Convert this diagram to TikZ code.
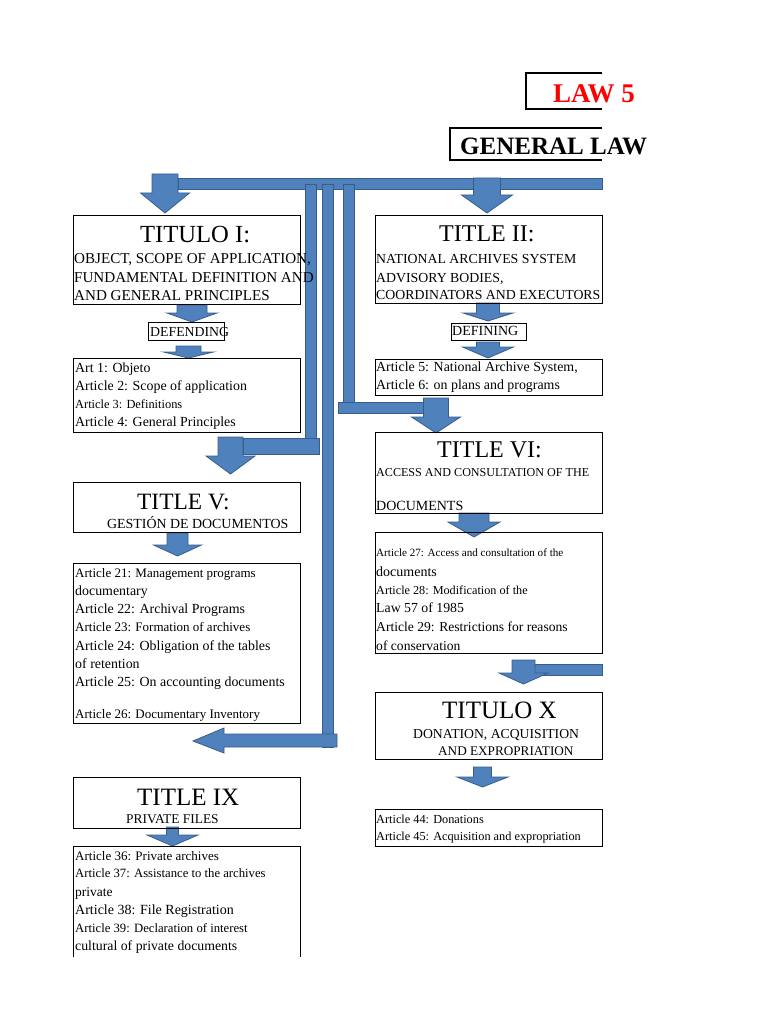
\documentclass[tikz,border=0pt]{standalone}
\usepackage{fontspec}
\setmainfont{Liberation Serif}
\definecolor{arrowblue}{HTML}{4F81BD}
\definecolor{arrowline}{HTML}{385D8A}
\definecolor{lawred}{HTML}{FF0000}
\newcommand{\fsz}[1]{\fontsize{#1}{#1}\selectfont}
\tikzset{
  blk/.style={fill=arrowblue, draw=arrowline, line width=0.8pt, line join=miter},
  box/.style={draw=black, line width=0.9pt, inner sep=0pt, anchor=north west},
  openbox/.style={draw=none, inner sep=0pt, anchor=north west},
  boxline/.style={draw=black, line width=0.9pt},
  thickline/.style={draw=black, line width=2pt},
  t/.style={anchor=base west, inner sep=0pt, text=black},
}
% block arrow pointing down: centre x, top, head top, tip, stem half width, head half width
\newcommand{\blockdown}[6]{%
  \filldraw[blk] ({#1-#5},#2) -- ({#1+#5},#2) -- ({#1+#5},#3) -- ({#1+#6},#3) -- (#1,#4) -- ({#1-#6},#3) -- ({#1-#5},#3) -- cycle;}
\newcommand{\tline}[5]{\node[t, font=\fsz{#4}] (#1) at (#2,#3) {#5};}
\begin{document}
\begin{tikzpicture}[x=1pt, y=-1pt]
\useasboundingbox (0,0) rectangle (768,1024);

% ---------- connector bars ----------
% top horizontal bar
\filldraw[blk] (178,178) rectangle (602,189);
% vertical bars
\filldraw[blk] (305,184) rectangle (316,447);
\filldraw[blk] (322,184) rectangle (333,747);
\filldraw[blk] (343,184) rectangle (354,413);
% bar A to Title V
\filldraw[blk] (243,438) rectangle (319,454);
\blockdown{230.5}{437}{456}{474}{12.5}{24.5}
% bar C to Title VI
\filldraw[blk] (338,402) rectangle (424,413);
\blockdown{436}{398}{417}{433}{12.5}{24.5}
% bar B to Title IX (left arrow)
\filldraw[blk] (337,734) -- (224,734) -- (224,728) -- (193,741) -- (224,753) -- (224,747) -- (337,747) -- cycle;
% right bar to Titulo X
\filldraw[blk] (534,664) rectangle (602,675);
\blockdown{523.5}{660}{673}{684}{11.5}{24.5}

% top down arrows
\blockdown{165}{174}{193}{213}{13}{24.5}
\blockdown{487}{178}{195}{213}{13.5}{25.5}

% small arrows
\blockdown{192}{305}{313}{322}{15}{25}
\blockdown{188.5}{346}{352}{358}{12.5}{25}
\blockdown{488}{303}{313}{321}{11.5}{25}
\blockdown{488}{342}{347}{358}{11.5}{25.5}
\blockdown{177.5}{533}{545}{556}{10.5}{24}
\blockdown{474}{513}{522}{537}{15}{26}
\blockdown{482.5}{767}{777}{787}{9}{25.5}
\blockdown{172.5}{827}{835}{846}{6}{25.5}

% ---------- header boxes ----------
\node[openbox, minimum width=76pt, minimum height=36pt] (law) at (526,73) {};
\draw[thickline] (law.north east) -- (law.north west) -- (law.south west) -- (law.south east);
\node[openbox, minimum width=152pt, minimum height=32pt] (gen) at (450,128) {};
\draw[thickline] (gen.north east) -- (gen.north west) -- (gen.south west) -- (gen.south east);
\node[t, font=\fsz{27}\bfseries, text=lawred] (lawtxt) at (553,103) {LAW 5};
\node[t, font=\fsz{25}\bfseries] (gentxt) at (460,155) {GENERAL LAW};

% ---------- boxes ----------
\node[box, minimum width=227pt, minimum height=89pt] (t1) at (73,215) {};
\node[box, minimum width=76pt, minimum height=18pt] (def) at (148,322) {};
\node[box, minimum width=227pt, minimum height=74pt] (a1) at (73,358) {};
\node[box, minimum width=227pt, minimum height=88pt] (t2) at (375,215) {};
\node[box, minimum width=75pt, minimum height=17pt] (dfn) at (451,323) {};
\node[box, minimum width=227pt, minimum height=36pt] (a5) at (375,359) {};
\node[box, minimum width=227pt, minimum height=81pt] (t6) at (375,432) {};
\node[box, minimum width=227pt, minimum height=121pt] (a27) at (375,532) {};
\node[box, minimum width=227pt, minimum height=50pt] (t5) at (73,482) {};
\node[box, minimum width=227pt, minimum height=160pt] (a21) at (73,563) {};
\node[box, minimum width=227pt, minimum height=67pt] (tx) at (375,692) {};
\node[box, minimum width=227pt, minimum height=37pt] (a44) at (375,809) {};
\node[box, minimum width=227pt, minimum height=51pt] (t9) at (73,777) {};
\node[openbox, minimum width=227pt, minimum height=111pt] (a36) at (73,846) {};
\draw[boxline] (a36.south west) -- (a36.north west) -- (a36.north east) -- (a36.south east);

% ---------- texts ----------
\tline{t1h}{140}{242}{24.6}{TITULO I:}
\tline{t1a}{74}{263}{15.1}{OBJECT, SCOPE OF APPLICATION,}
\tline{t1b}{74}{282}{15.1}{FUNDAMENTAL DEFINITION AND}
\tline{t1c}{74}{300}{15.1}{AND GENERAL PRINCIPLES}
\tline{t2h}{439}{241.5}{24}{TITLE II:}
\tline{t2a}{376}{263}{13.8}{NATIONAL ARCHIVES SYSTEM}
\tline{t2b}{376}{282}{13.8}{ADVISORY BODIES,}
\tline{t2c}{376}{299}{13.8}{COORDINATORS AND EXECUTORS}
\tline{deft}{150}{336.5}{13.8}{DEFENDING}
\tline{dfnt}{452}{335}{14}{DEFINING}
\tline{a1a}{75}{372}{13.9}{Art 1: Objeto}
\tline{a1b}{75}{390.5}{13.9}{Article 2: Scope of application}
\tline{a1c}{75}{408}{12.4}{Article 3: Definitions}
\tline{a1d}{75}{426.5}{13.9}{Article 4: General Principles}
\tline{a5a}{376}{371.5}{13.9}{Article 5: National Archive System,}
\tline{a5b}{376}{389}{13.9}{Article 6: on plans and programs}
\tline{t5h}{137}{509}{23.4}{TITLE V:}
\tline{t5a}{107}{528}{13.9}{GESTIÓN DE DOCUMENTOS}
\tline{t6h}{437}{457}{24}{TITLE VI:}
\tline{t6a}{376}{476}{12.1}{ACCESS AND CONSULTATION OF THE}
\tline{t6b}{376}{510}{14}{DOCUMENTS}
\tline{a27a}{376}{556.5}{11.1}{Article 27: Access and consultation of the}
\tline{a27b}{376}{576.5}{14}{documents}
\tline{a27c}{376}{594}{12.2}{Article 28: Modification of the}
\tline{a27d}{376}{612.5}{13.8}{Law 57 of 1985}
\tline{a27e}{376}{631.5}{13.6}{Article 29: Restrictions for reasons}
\tline{a27f}{376}{650}{13.6}{of conservation}
\tline{a21a}{75}{577}{13}{Article 21: Management programs}
\tline{a21b}{75}{595.5}{13.9}{documentary}
\tline{a21c}{75}{613}{13.9}{Article 22: Archival Programs}
\tline{a21d}{75}{631.5}{13}{Article 23: Formation of archives}
\tline{a21e}{75}{650}{13.9}{Article 24: Obligation of the tables}
\tline{a21f}{75}{668}{13.9}{of retention}
\tline{a21g}{75}{686.5}{13.9}{Article 25: On accounting documents}
\tline{a21h}{75}{718}{13}{Article 26: Documentary Inventory}
\tline{txh}{442}{718}{25}{TITULO X}
\tline{txa}{413}{738}{13.7}{DONATION, ACQUISITION}
\tline{txb}{438}{755}{13.2}{AND EXPROPRIATION}
\tline{a44a}{376}{823}{12.3}{Article 44: Donations}
\tline{a44b}{376}{840}{12.3}{Article 45: Acquisition and expropriation}
\tline{t9h}{137}{805}{25}{TITLE IX}
\tline{t9a}{126}{823}{13.4}{PRIVATE FILES}
\tline{a36a}{75}{860}{13}{Article 36: Private archives}
\tline{a36b}{75}{877.5}{12.7}{Article 37: Assistance to the archives}
\tline{a36c}{75}{896}{13.5}{private}
\tline{a36d}{75}{914}{14}{Article 38: File Registration}
\tline{a36e}{75}{932}{12.7}{Article 39: Declaration of interest}
\tline{a36f}{75}{950}{13.8}{cultural of private documents}
\end{tikzpicture}
\end{document}
